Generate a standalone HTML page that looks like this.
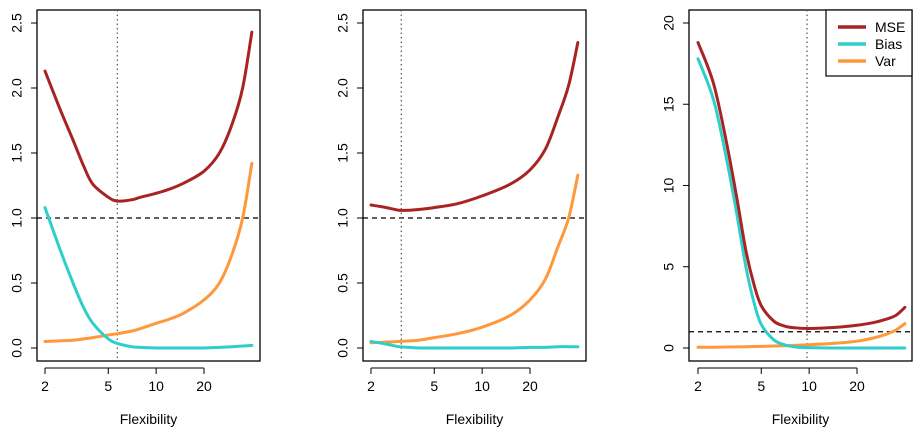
<!DOCTYPE html>
<html><head><meta charset="utf-8"><style>
body{margin:0;background:#fff;}
svg{display:block;font-family:"Liberation Sans",Arial,sans-serif;}
</style></head><body>
<svg id="chart" width="923" height="434" viewBox="0 0 923 434"></svg>
<script>
const flex1 = [2,2.5,3,3.5,4,5,5.7,7,8,10,12,15,20,25,30,35,40];
const mse1  = [2.13,1.83,1.6,1.4,1.26,1.16,1.13,1.14,1.16,1.19,1.22,1.27,1.36,1.5,1.72,2.0,2.43];
const bias1 = [1.08,0.75,0.5,0.31,0.19,0.07,0.035,0.01,0.005,0.0,0.0,0.0,0.0,0.005,0.01,0.015,0.02];
const var1  = [0.05,0.055,0.06,0.07,0.08,0.1,0.11,0.13,0.15,0.19,0.22,0.27,0.37,0.5,0.72,1.0,1.42];
const flex2 = [2,2.5,3,3.5,4,5,7,10,15,20,25,30,35,40];
const mse2  = [1.1,1.08,1.06,1.06,1.065,1.08,1.11,1.17,1.26,1.37,1.53,1.78,2.02,2.35];
const bias2 = [0.05,0.03,0.01,0.005,0.0,0.0,0.0,0.0,0.0,0.005,0.005,0.01,0.01,0.01];
const var2  = [0.04,0.045,0.05,0.055,0.06,0.08,0.11,0.16,0.25,0.37,0.53,0.78,1.0,1.33];
const flex3 = [2,2.5,3,3.5,4,4.5,5,6,7,8,10,15,20,25,30,35,40];
const mse3  = [18.8,16.3,12.8,9.3,6.0,3.9,2.6,1.65,1.35,1.25,1.2,1.28,1.4,1.55,1.75,2.0,2.5];
const bias3 = [17.8,15.3,11.8,8.3,5.0,2.8,1.45,0.5,0.2,0.08,0.02,0.0,0.0,0.0,0.0,0.0,0.0];
const var3  = [0.05,0.05,0.06,0.07,0.08,0.09,0.1,0.12,0.14,0.16,0.2,0.3,0.42,0.6,0.82,1.1,1.5];
const xTicks = [2,5,10,20];
const yTicksA = ["0.0","0.5","1.0","1.5","2.0","2.5"];
const yTicksB = ["0","5","10","15","20"];
const optFlex = [5.7,3.1,9.7];

const NS="http://www.w3.org/2000/svg";
const svg=document.getElementById('chart');
const COLORS={mse:"#a82424",bias:"#2ecfcb",var:"#ff983a"};
function mk(tag,attrs,parent){const e=document.createElementNS(NS,tag);for(const k in attrs)e.setAttribute(k,attrs[k]);(parent||svg).appendChild(e);return e;}
function pathD(pts){
  let d="M"+pts[0][0]+","+pts[0][1];
  for(let i=0;i<pts.length-1;i++){
    const p0=pts[Math.max(0,i-1)],p1=pts[i],p2=pts[i+1],p3=pts[Math.min(pts.length-1,i+2)];
    const c1=[p1[0]+(p2[0]-p0[0])/6,p1[1]+(p2[1]-p0[1])/6];
    const c2=[p2[0]-(p3[0]-p1[0])/6,p2[1]-(p3[1]-p1[1])/6];
    d+=" C"+c1[0].toFixed(2)+","+c1[1].toFixed(2)+" "+c2[0].toFixed(2)+","+c2[1].toFixed(2)+" "+p2[0].toFixed(2)+","+p2[1].toFixed(2);
  }
  return d;
}
const panels=[
 {left:37,right:260,x2:45,flex:flex1,mse:mse1,bias:bias1,v:var1,ymax:2.5,ticks:yTicksA,opt:optFlex[0]},
 {left:363,right:586,x2:371,flex:flex2,mse:mse2,bias:bias2,v:var2,ymax:2.5,ticks:yTicksA,opt:optFlex[1]},
 {left:689,right:912,x2:698,flex:flex3,mse:mse3,bias:bias3,v:var3,ymax:20,ticks:yTicksB,opt:optFlex[2],legend:true}
];
const TOP=10,BOT=361,Y0=348,YTOP=23,DEC=159;
panels.forEach((p,pi)=>{
  const g=mk('g',{});
  
  
  const xs=f=>p.x2+(Math.log10(f)-Math.log10(2))*DEC;
  const ys=v=>Y0-(v/p.ymax)*(Y0-YTOP);
  const ya=mk('g',{},g);
  
  
  const tv=p.ticks.map(Number);
  mk('line',{x1:p.left,x2:p.left,y1:ys(tv[0]),y2:ys(tv[tv.length-1]),stroke:"#000","stroke-width":1},ya);
  p.ticks.forEach(t=>{
    const y=ys(Number(t));
    mk('line',{x1:p.left-6,x2:p.left,y1:y,y2:y,stroke:"#000"},ya);
    const tx=mk('text',{x:p.left-19,y:y,"font-size":14,"text-anchor":"middle",transform:`rotate(-90 ${p.left-19} ${y})`,"dominant-baseline":"middle"},ya);
    
    
    tx.textContent=t;
  });
  const xa=mk('g',{},g);
  
  
  mk('line',{x1:xs(2),x2:xs(20),y1:BOT+7,y2:BOT+7,stroke:"#000"},xa);
  xTicks.forEach(t=>{
    const x=xs(t);
    mk('line',{x1:x,x2:x,y1:BOT+7,y2:BOT+13,stroke:"#000"},xa);
    const tx=mk('text',{x:x,y:391,"font-size":14,"text-anchor":"middle"},xa);
    
    
    tx.textContent=t;
  });
  const xt=mk('text',{x:(p.left+p.right)/2,y:424,"font-size":14,"text-anchor":"middle"},g);
  
  
  xt.textContent="Flexibility";
  const fr=mk('rect',{x:p.left,y:TOP,width:p.right-p.left,height:BOT-TOP,fill:"none",stroke:"#000","stroke-width":1.3},g);
  
  
  const h=mk('line',{x1:p.left,x2:p.right,y1:ys(1),y2:ys(1),stroke:"#000","stroke-dasharray":"5,4","stroke-width":1.2},g);
  
  
  const vx=xs(p.opt);
  const vl=mk('line',{x1:vx,x2:vx,y1:TOP,y2:BOT,stroke:"#555","stroke-dasharray":"1.5,3","stroke-width":1.2},g);
  
  
  [["var",p.v],["bias",p.bias],["mse",p.mse]].forEach(([k,arr])=>{
    const pts=p.flex.map((f,i)=>[xs(f),ys(arr[i])]);
    const path=mk('path',{d:pathD(pts),fill:"none",stroke:COLORS[k],"stroke-width":3,"stroke-linecap":"round"},g);
    
    
  });
  if(p.legend){
    const lg=mk('g',{},g);
    
    
    mk('rect',{x:826,y:10,width:86,height:66,fill:"#fff",stroke:"#000","stroke-width":1.2},lg);
    [["MSE","mse"],["Bias","bias"],["Var","var"]].forEach(([lab,k],i)=>{
      const y=27+i*17;
      const e=mk('g',{},lg);
      
      
      mk('line',{x1:838,x2:866,y1:y,y2:y,stroke:COLORS[k],"stroke-width":3.5},e);
      const t=mk('text',{x:875,y:y+5,"font-size":14},e);
      t.textContent=lab;
    });
  }
});
</script>
</body></html>
